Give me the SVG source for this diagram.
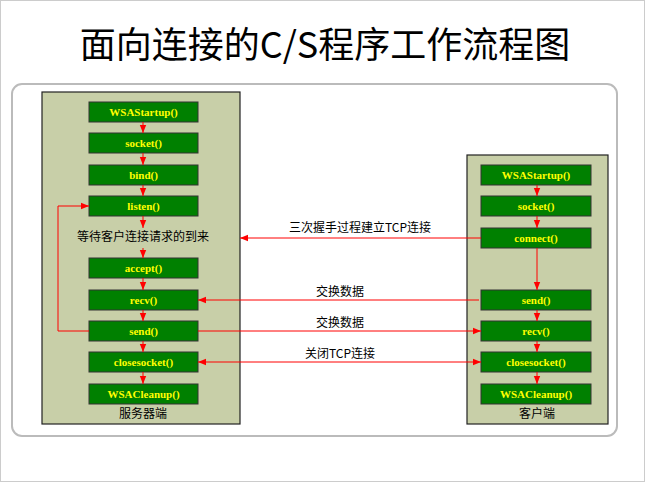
<svg xmlns="http://www.w3.org/2000/svg" width="645" height="482" viewBox="0 0 645 482">
<style>
.b{fill:#008000;stroke:#333;stroke-width:1}
.bt{font-family:"Liberation Serif",serif;font-weight:bold;font-size:11px;fill:#ffff00;text-anchor:middle}
.l{stroke:#ff0000;stroke-width:1;fill:none}
.cn{font-family:"Noto Sans CJK SC",sans-serif;font-size:12px;fill:#000;text-anchor:middle}
.p{fill:#c8cfa8;stroke:#222;stroke-width:1.2}
</style>
<defs><marker id="a" viewBox="0 0 10 10" refX="10" refY="5" markerWidth="8" markerHeight="8" orient="auto-start-reverse"><path d="M0,1 L10,5 L0,9 z" fill="#ff0000"/></marker></defs>
<rect width="645" height="482" fill="#fff"/>
<rect x="0.5" y="0.5" width="644" height="481" fill="none" stroke="#ccc"/>
<text x="325" y="58" font-family="Noto Sans CJK SC, sans-serif" font-size="36" text-anchor="middle">面向连接的C/S程序工作流程图</text>
<rect x="12" y="84" width="605" height="352" rx="10" fill="#fff" stroke="#bbb" stroke-width="2"/>
<g id="server"><rect class="p" x="42" y="92" width="198" height="332"/><text class="cn" x="143" y="418">服务器端</text></g>
<g id="client"><rect class="p" x="467" y="155" width="141" height="269"/><text class="cn" x="537" y="418">客户端</text></g>
<g id="s1"><rect class="b" x="89" y="102" width="109" height="20"/><text class="bt" x="143.5" y="116">WSAStartup()</text></g>
<g id="s2"><rect class="b" x="89" y="133" width="109" height="20"/><text class="bt" x="143.5" y="147">socket()</text></g>
<g id="s3"><rect class="b" x="89" y="165" width="109" height="20"/><text class="bt" x="143.5" y="179">bind()</text></g>
<g id="s4"><rect class="b" x="89" y="196" width="109" height="20"/><text class="bt" x="143.5" y="210">listen()</text></g>
<g id="wait"><text class="cn" x="143" y="241">等待客户连接请求的到来</text></g>
<g id="s5"><rect class="b" x="89" y="258" width="109" height="20"/><text class="bt" x="143.5" y="272">accept()</text></g>
<g id="s6"><rect class="b" x="89" y="290" width="109" height="20"/><text class="bt" x="143.5" y="304">recv()</text></g>
<g id="s7"><rect class="b" x="89" y="321" width="109" height="20"/><text class="bt" x="143.5" y="335">send()</text></g>
<g id="s8"><rect class="b" x="89" y="352" width="109" height="20"/><text class="bt" x="143.5" y="366">closesocket()</text></g>
<g id="s9"><rect class="b" x="89" y="384" width="109" height="20"/><text class="bt" x="143.5" y="398">WSACleanup()</text></g>
<g id="c1"><rect class="b" x="481" y="165" width="110" height="20"/><text class="bt" x="536" y="179">WSAStartup()</text></g>
<g id="c2"><rect class="b" x="481" y="196" width="110" height="20"/><text class="bt" x="536" y="210">socket()</text></g>
<g id="c3"><rect class="b" x="481" y="228" width="110" height="20"/><text class="bt" x="536" y="242">connect()</text></g>
<g id="c4"><rect class="b" x="481" y="290" width="110" height="20"/><text class="bt" x="536" y="304">send()</text></g>
<g id="c5"><rect class="b" x="481" y="321" width="110" height="20"/><text class="bt" x="536" y="335">recv()</text></g>
<g id="c6"><rect class="b" x="481" y="352" width="110" height="20"/><text class="bt" x="536" y="366">closesocket()</text></g>
<g id="c7"><rect class="b" x="481" y="384" width="110" height="20"/><text class="bt" x="536" y="398">WSACleanup()</text></g>
<g id="connectors">
<path class="l" marker-end="url(#a)" d="M143,122V133"/>
<path class="l" marker-end="url(#a)" d="M143,153V165"/>
<path class="l" marker-end="url(#a)" d="M143,185V196"/>
<path class="l" marker-end="url(#a)" d="M143,216V228"/>
<path class="l" marker-end="url(#a)" d="M143,248V258"/>
<path class="l" marker-end="url(#a)" d="M143,278V290"/>
<path class="l" marker-end="url(#a)" d="M143,310V321"/>
<path class="l" marker-end="url(#a)" d="M143,341V352"/>
<path class="l" marker-end="url(#a)" d="M143,372V384"/>
<path class="l" marker-end="url(#a)" d="M89,331H58V206H89"/>
<path class="l" marker-end="url(#a)" d="M537,185V196"/>
<path class="l" marker-end="url(#a)" d="M537,216V228"/>
<path class="l" marker-end="url(#a)" d="M537,248V290"/>
<path class="l" marker-end="url(#a)" d="M537,310V321"/>
<path class="l" marker-end="url(#a)" d="M537,341V352"/>
<path class="l" marker-end="url(#a)" d="M537,372V384"/>
<path class="l" marker-end="url(#a)" d="M481,238H240"/>
<path class="l" marker-end="url(#a)" d="M479,300H198"/>
<path class="l" marker-end="url(#a)" d="M198,331H481"/>
<path class="l" marker-start="url(#a)" marker-end="url(#a)" d="M198,362H481"/>
<text class="cn" x="360" y="232">三次握手过程建立TCP连接</text>
<text class="cn" x="340" y="296">交换数据</text>
<text class="cn" x="340" y="327">交换数据</text>
<text class="cn" x="340" y="358">关闭TCP连接</text>
</g>
</svg>
